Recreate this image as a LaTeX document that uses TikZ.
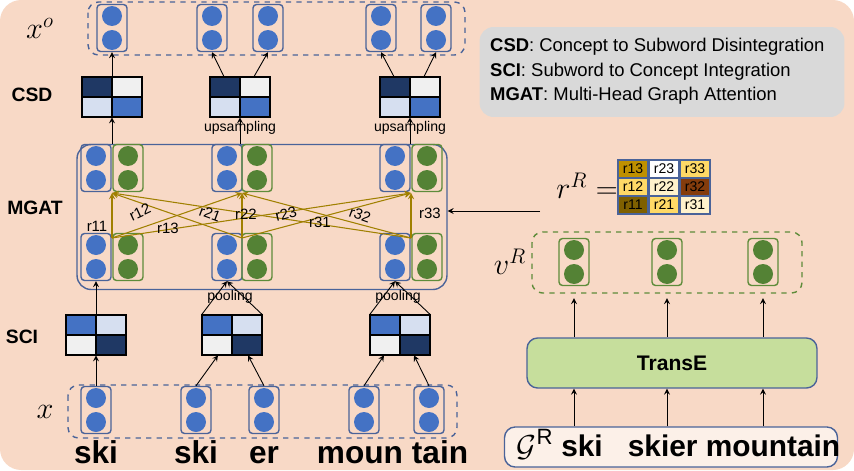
\documentclass[tikz,border=0pt]{standalone}
\usepackage{amsmath}
\usepackage{amssymb}
\usepackage{fontspec}
\setmainfont{Liberation Sans}
\usetikzlibrary{calc}
\definecolor{peach}{HTML}{F8D9C6}
\definecolor{bline}{HTML}{4A6399}
\definecolor{bdot}{HTML}{4472C4}
\definecolor{gline}{HTML}{5E8C3A}
\definecolor{gdot}{HTML}{548235}
\definecolor{navy}{HTML}{1F3864}
\definecolor{pale}{HTML}{F0F0F0}
\definecolor{lblue}{HTML}{D6DFF0}
\definecolor{gold}{HTML}{A08000}
\definecolor{legend}{HTML}{D9D9D9}
\definecolor{transe}{HTML}{C6DE9C}
\definecolor{rA}{HTML}{BF9000}
\definecolor{rB}{HTML}{FFD966}
\definecolor{rC}{HTML}{FFF2CC}
\definecolor{rD}{HTML}{843C0C}
\definecolor{rE}{HTML}{7F6000}
\tikzset{
cell/.style={rounded corners=2pt,line width=0.8pt,minimum width=0.6cm,minimum height=0.94cm,inner sep=0pt},
mat/.style={minimum width=1.2cm,minimum height=0.8cm,inner sep=0pt},
lab/.style={font=\bfseries\fontsize{11}{11}\selectfont},
word/.style={font=\bfseries\fontsize{18}{18}\selectfont,anchor=base},
note/.style={font=\fontsize{8}{8}\selectfont},
rel/.style={font=\fontsize{8.5}{8.5}\selectfont,inner sep=0.5pt},
rarr/.style={->,>=stealth,gold,line width=0.6pt},
arr/.style={->,>=stealth,line width=0.5pt},
rcell/.style={minimum width=0.6cm,minimum height=0.36cm,inner sep=0pt,draw=bline,line width=0.8pt,font=\fontsize{8}{8}\selectfont}
}
% vector cell with two dots
\newcommand\vcell[4]{
\node[cell,draw=#4line] (#1) at (#2,#3) {};
\fill[#4dot] (#2,#3-12) circle (0.2cm);
\fill[#4dot] (#2,#3+12) circle (0.2cm);
}
% 2x2 block
\newcommand\sqmat[7]{
\node[mat] (#1) at (#2,#3) {};
\fill[#4] (#1.north west) rectangle (#1.center);
\fill[#5] (#1.north) rectangle (#1.east);
\fill[#6] (#1.west) rectangle (#1.south);
\fill[#7] (#1.center) rectangle (#1.south east);
\draw[line width=1pt] (#1.north west) rectangle (#1.south east);
\draw[line width=1pt] (#1.north) -- (#1.south) (#1.west) -- (#1.east);
}

\begin{document}
\begin{tikzpicture}[x=0.02cm,y=-0.02cm]
\useasboundingbox (0,0) rectangle (854,470);
\fill[peach,rounded corners=12pt] (0,0) rectangle (854,470);

% legend
\node[fill=legend,rounded corners=8pt,minimum width=7.3cm,minimum height=1.8cm] (leg) at (662,72) {};
\node[anchor=west,font=\fontsize{10.5}{10.5}\selectfont] (l1) at (484,47) {\textbf{CSD}: Concept to Subword Disintegration};
\node[anchor=west,font=\fontsize{10.5}{10.5}\selectfont] (l2) at (484,72) {\textbf{SCI}: Subword to Concept Integration};
\node[anchor=west,font=\fontsize{10.5}{10.5}\selectfont] (l3) at (484,96) {\textbf{MGAT}: Multi-Head Graph Attention};

% output row
\draw[bline,dashed,line width=0.8pt,rounded corners=6pt] (88,2) rectangle (465,55);
\node[font=\fontsize{17}{17}\selectfont] (xo) at (40,28) {$x^{o}$};
\vcell{o1}{112}{28}{b}
\vcell{o2}{212}{28}{b}
\vcell{o3}{268}{28}{b}
\vcell{o4}{381}{28}{b}
\vcell{o5}{436}{28}{b}

% CSD
\node[lab] (csd) at (32,95) {CSD};
\sqmat{c1}{112}{97}{navy}{pale}{lblue}{bdot}
\sqmat{c2}{240}{97}{navy}{pale}{lblue}{bdot}
\sqmat{c3}{410}{97}{navy}{pale}{lblue}{bdot}
\node[note] (up1) at (240,128) {upsampling};
\node[note] (up2) at (410,128) {upsampling};

% MGAT
\node[lab] (mgat) at (35,208) {MGAT};
\node[draw=bline,line width=0.8pt,rounded corners=8pt,minimum width=7.4cm,minimum height=2.9cm] (mg) at (262,217) {};
\vcell{t1}{96}{168}{b}
\vcell{u1}{128}{168}{g}
\vcell{t2}{227}{168}{b}
\vcell{u2}{257}{168}{g}
\vcell{t3}{395}{168}{b}
\vcell{u3}{427}{168}{g}
\vcell{s1}{96}{257}{b}
\vcell{v1}{128}{257}{g}
\vcell{s2}{227}{257}{b}
\vcell{v2}{257}{257}{g}
\vcell{s3}{395}{257}{b}
\vcell{v3}{427}{257}{g}
\coordinate (hi1) at (112,193);
\coordinate (hi2) at (242,193);
\coordinate (hi3) at (411,193);
\coordinate (lo1) at (112,238);
\coordinate (lo2) at (242,238);
\coordinate (lo3) at (411,238);
\foreach \i in {1,2,3}{
\foreach \j in {1,2,3}{
\draw[rarr] (lo\i) -- (hi\j);
}}
\node[rel] (r11) at (97,226) {r11};
\node[rel,rotate=25] (r12) at (140,212) {r12};
\node[rel] (r13) at (168,228) {r13};
\node[rel,rotate=-20] (r21) at (210,214) {r21};
\node[rel] (r22) at (246,214) {r22};
\node[rel,rotate=15] (r23) at (286,214) {r23};
\node[rel] (r31) at (320,222) {r31};
\node[rel,rotate=-20] (r32) at (360,215) {r32};
\node[rel] (r33) at (430,213) {r33};

% SCI
\node[lab] (sci) at (22,337) {SCI};
\sqmat{q1}{96}{335}{bdot}{lblue}{pale}{navy}
\sqmat{q2}{232}{335}{bdot}{lblue}{pale}{navy}
\sqmat{q3}{400}{335}{bdot}{lblue}{pale}{navy}
\node[note] (po1) at (230,297) {pooling};
\node[note] (po2) at (398,297) {pooling};

% input row
\draw[bline,dashed,line width=0.8pt,rounded corners=6pt] (68,385) rectangle (457,438);
\node[font=\fontsize{17}{17}\selectfont] (xx) at (45,412) {$x$};
\vcell{i1}{96}{410}{b}
\vcell{i2}{196}{410}{b}
\vcell{i3}{264}{410}{b}
\vcell{i4}{364}{410}{b}
\vcell{i5}{429}{410}{b}
\node[word] (w1) at (96,463) {ski};
\node[word] (w2) at (196,463) {ski};
\node[word] (w3) at (264,463) {er};
\node[word] (w4) at (360,463) {moun};
\node[word] (w5) at (440,463) {tain};

% arrows left side
\draw[arr] (i1.north) -- (q1.south);
\draw[arr] (i2.north) -- ($(q2.south)+(-14,0)$);
\draw[arr] (i3.north) -- ($(q2.south)+(16,0)$);
\draw[arr] (i4.north) -- ($(q3.south)+(-16,0)$);
\draw[arr] (i5.north) -- ($(q3.south)+(14,0)$);
\draw[arr] (q1.north) -- (s1.south);
\draw[arr] (q2.north west) -- (s2.south);
\draw[arr] (q2.north east) -- (s2.south);
\draw[arr] (q3.north west) -- (s3.south);
\draw[arr] (q3.north east) -- (s3.south);
\draw[arr] (mg.north -| c1) -- (c1.south);
\draw[arr] (mg.north -| c2) -- (c2.south);
\draw[arr] (mg.north -| c3) -- (c3.south);
\draw[arr] (c1.north) -- (o1.south);
\draw[arr] ($(c2.north)+(-16,0)$) -- (o2.south);
\draw[arr] ($(c2.north)+(14,0)$) -- (o3.south);
\draw[arr] ($(c3.north)+(-16,0)$) -- (o4.south);
\draw[arr] ($(c3.north)+(14,0)$) -- (o5.south);

% relation matrix
\node[font=\fontsize{17}{17}\selectfont] (rr) at (587,186) {$r^{R}=$};
\node[rcell,fill=rA] (m13) at (633,169) {r13};
\node[rcell,fill=white] (m23) at (664,169) {r23};
\node[rcell,fill=rB] (m33) at (695,169) {r33};
\node[rcell,fill=rB] (m12) at (633,187) {r12};
\node[rcell,fill=rC] (m22) at (664,187) {r22};
\node[rcell,fill=rD] (m32) at (695,187) {r32};
\node[rcell,fill=rE] (m11) at (633,205) {r11};
\node[rcell,fill=rB] (m21) at (664,205) {r21};
\node[rcell,fill=rC] (m31) at (695,205) {r31};
\coordinate (rin) at (540,211);
\draw[arr] (rin) -- (mg.east |- rin);

% relation vectors
\draw[gline,dashed,line width=0.8pt,rounded corners=6pt] (532,232) rectangle (802,293);
\node[font=\fontsize{17}{17}\selectfont] (vr) at (510,262) {$v^{R}$};
\vcell{e1}{574}{262}{g}
\vcell{e2}{667}{262}{g}
\vcell{e3}{763}{262}{g}
\node[draw=bline,fill=transe,line width=0.8pt,rounded corners=6pt,minimum width=5.8cm,minimum height=1cm,font=\bfseries\fontsize{12}{12}\selectfont] (te) at (672,363) {TransE};
\node[draw=bline,fill=peach!40,line width=0.8pt,rounded corners=6pt,minimum width=6.66cm,minimum height=0.8cm] (gr) at (671,447) {};
\node[font=\fontsize{18}{18}\selectfont,anchor=base] (gg) at (535,456) {$\mathcal{G}^{\mathrm{R}}$};
\node[word,font=\bfseries\fontsize{17}{17}\selectfont] (g1) at (582,456) {ski};
\node[word,font=\bfseries\fontsize{17}{17}\selectfont] (g2) at (734,456) {skier mountain};
\foreach \k in {1,2,3}{
\draw[arr] (te.north -| e\k) -- ($(e\k.south)+(0,12)$);
\draw[arr] (gr.north -| e\k) -- (te.south -| e\k);
}
\end{tikzpicture}
\end{document}
